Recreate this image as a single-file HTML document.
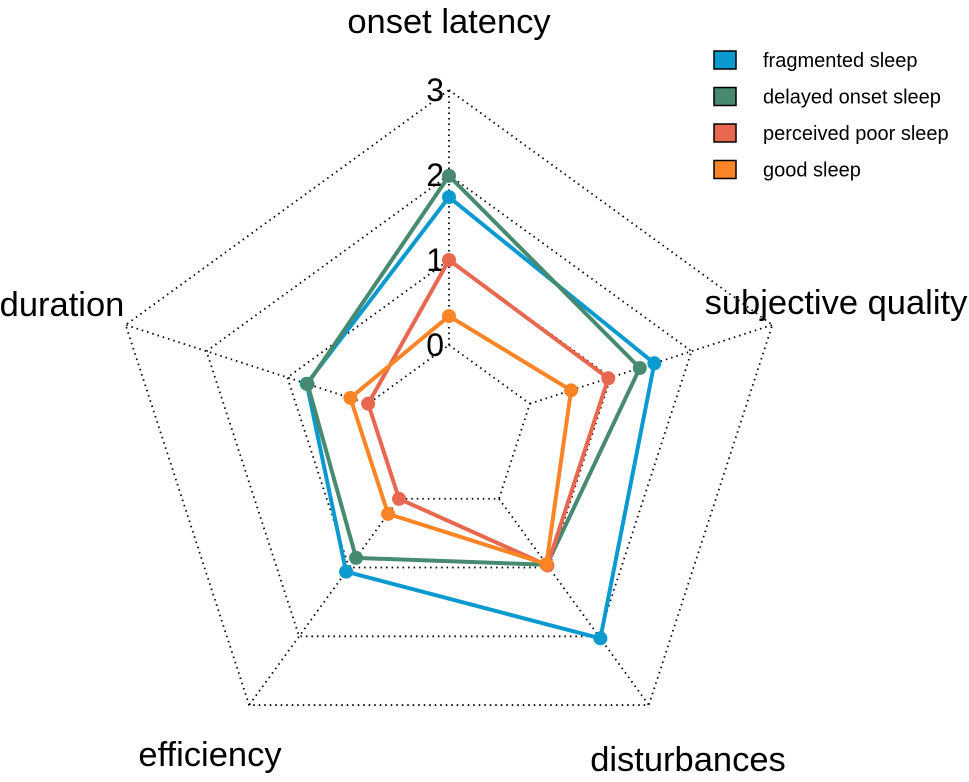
<!DOCTYPE html>
<html><head><meta charset="utf-8"><style>
html,body{margin:0;padding:0;background:#fff;}
svg{display:block;font-family:"Liberation Sans",Arial,sans-serif;}
</style></head><body>
<svg id="chart" width="969" height="782" viewBox="0 0 969 782"></svg>
<script>
const axes = ["onset latency","subjective quality","disturbances","efficiency","duration"];
const seriesNames = ["fragmented sleep","delayed onset sleep","perceived poor sleep","good sleep"];
const fragmented = [1.74,1.54,2.03,1.06,0.76];
const delayedOnset = [1.99,1.36,0.96,0.86,0.75];
const perceivedPoor = [1.0,0.97,0.97,0.0,0.0];
const goodSleep = [0.34,0.51,0.95,0.22,0.22];
const ticks = ["0","1","2","3"];
const colors = ["#0b9ad0","#478a70","#e8684f","#fb8526"];

const svg = document.getElementById('chart');
const NS = "http://www.w3.org/2000/svg";
const cx = 449, cy = 430, step = 85;
function rad(v){ return step + step * v; }
function pt(i, v){ const a = i * 2 * Math.PI / 5; const r = rad(v); return [cx + r * Math.sin(a), cy - r * Math.cos(a)]; }
function mk(tag, attrs, name){ const e = document.createElementNS(NS, tag); for (const k in attrs) e.setAttribute(k, attrs[k]);   svg.appendChild(e); return e; }

ticks.forEach((t, k) => {
  const p = axes.map((a, i) => pt(i, k).join(',')).join(' ');
  const g = mk('polygon', {points: p, fill: 'none', stroke: '#000', 'stroke-width': 1.8, 'stroke-dasharray': '1.5,4'}, 'grid-ring');
  
});
axes.forEach((a, i) => {
  const p0 = pt(i, 0), p1 = pt(i, 3);
  mk('line', {x1: p0[0], y1: p0[1], x2: p1[0], y2: p1[1], stroke: '#000', 'stroke-width': 1.8, 'stroke-dasharray': '1.5,4'}, 'axis-spoke');
});
ticks.forEach((t, k) => {
  const e = mk('text', {x: cx - 5, y: cy - rad(k) + 11, 'text-anchor': 'end', 'font-size': 32, fill: '#000'}, 'tick-label');
  e.textContent = t;
});
const labelPos = [[449, 33, 'middle'], [836, 314, 'middle'], [688, 771, 'middle'], [210, 766, 'middle'], [62, 316, 'middle']];
axes.forEach((a, i) => {
  const e = mk('text', {x: labelPos[i][0], y: labelPos[i][1], 'text-anchor': labelPos[i][2], 'font-size': 34.5, fill: '#000'}, 'axis-label');
  e.textContent = a;
});
[fragmented, delayedOnset, perceivedPoor, goodSleep].forEach((vals, s) => {
  const p = vals.map((v, i) => pt(i, v).join(',')).join(' ');
  const poly = mk('polygon', {points: p, fill: 'none', stroke: colors[s], 'stroke-width': 4, 'stroke-linejoin': 'round'}, 'series-line');
  
  vals.forEach((v, i) => {
    const q = pt(i, v);
    mk('circle', {cx: q[0], cy: q[1], r: 7, fill: colors[s]}, 'series-point');
  });
});
seriesNames.forEach((n, s) => {
  const y = 60 + s * 36.5;
  mk('rect', {x: 714, y: y - 9, width: 22, height: 18, fill: colors[s], stroke: '#000', 'stroke-width': 1.5}, 'legend-swatch');
  const t = mk('text', {x: 763, y: y + 7, 'font-size': 20, fill: '#000'}, 'legend-entry');
  t.textContent = n;
});
</script>
</body></html>
